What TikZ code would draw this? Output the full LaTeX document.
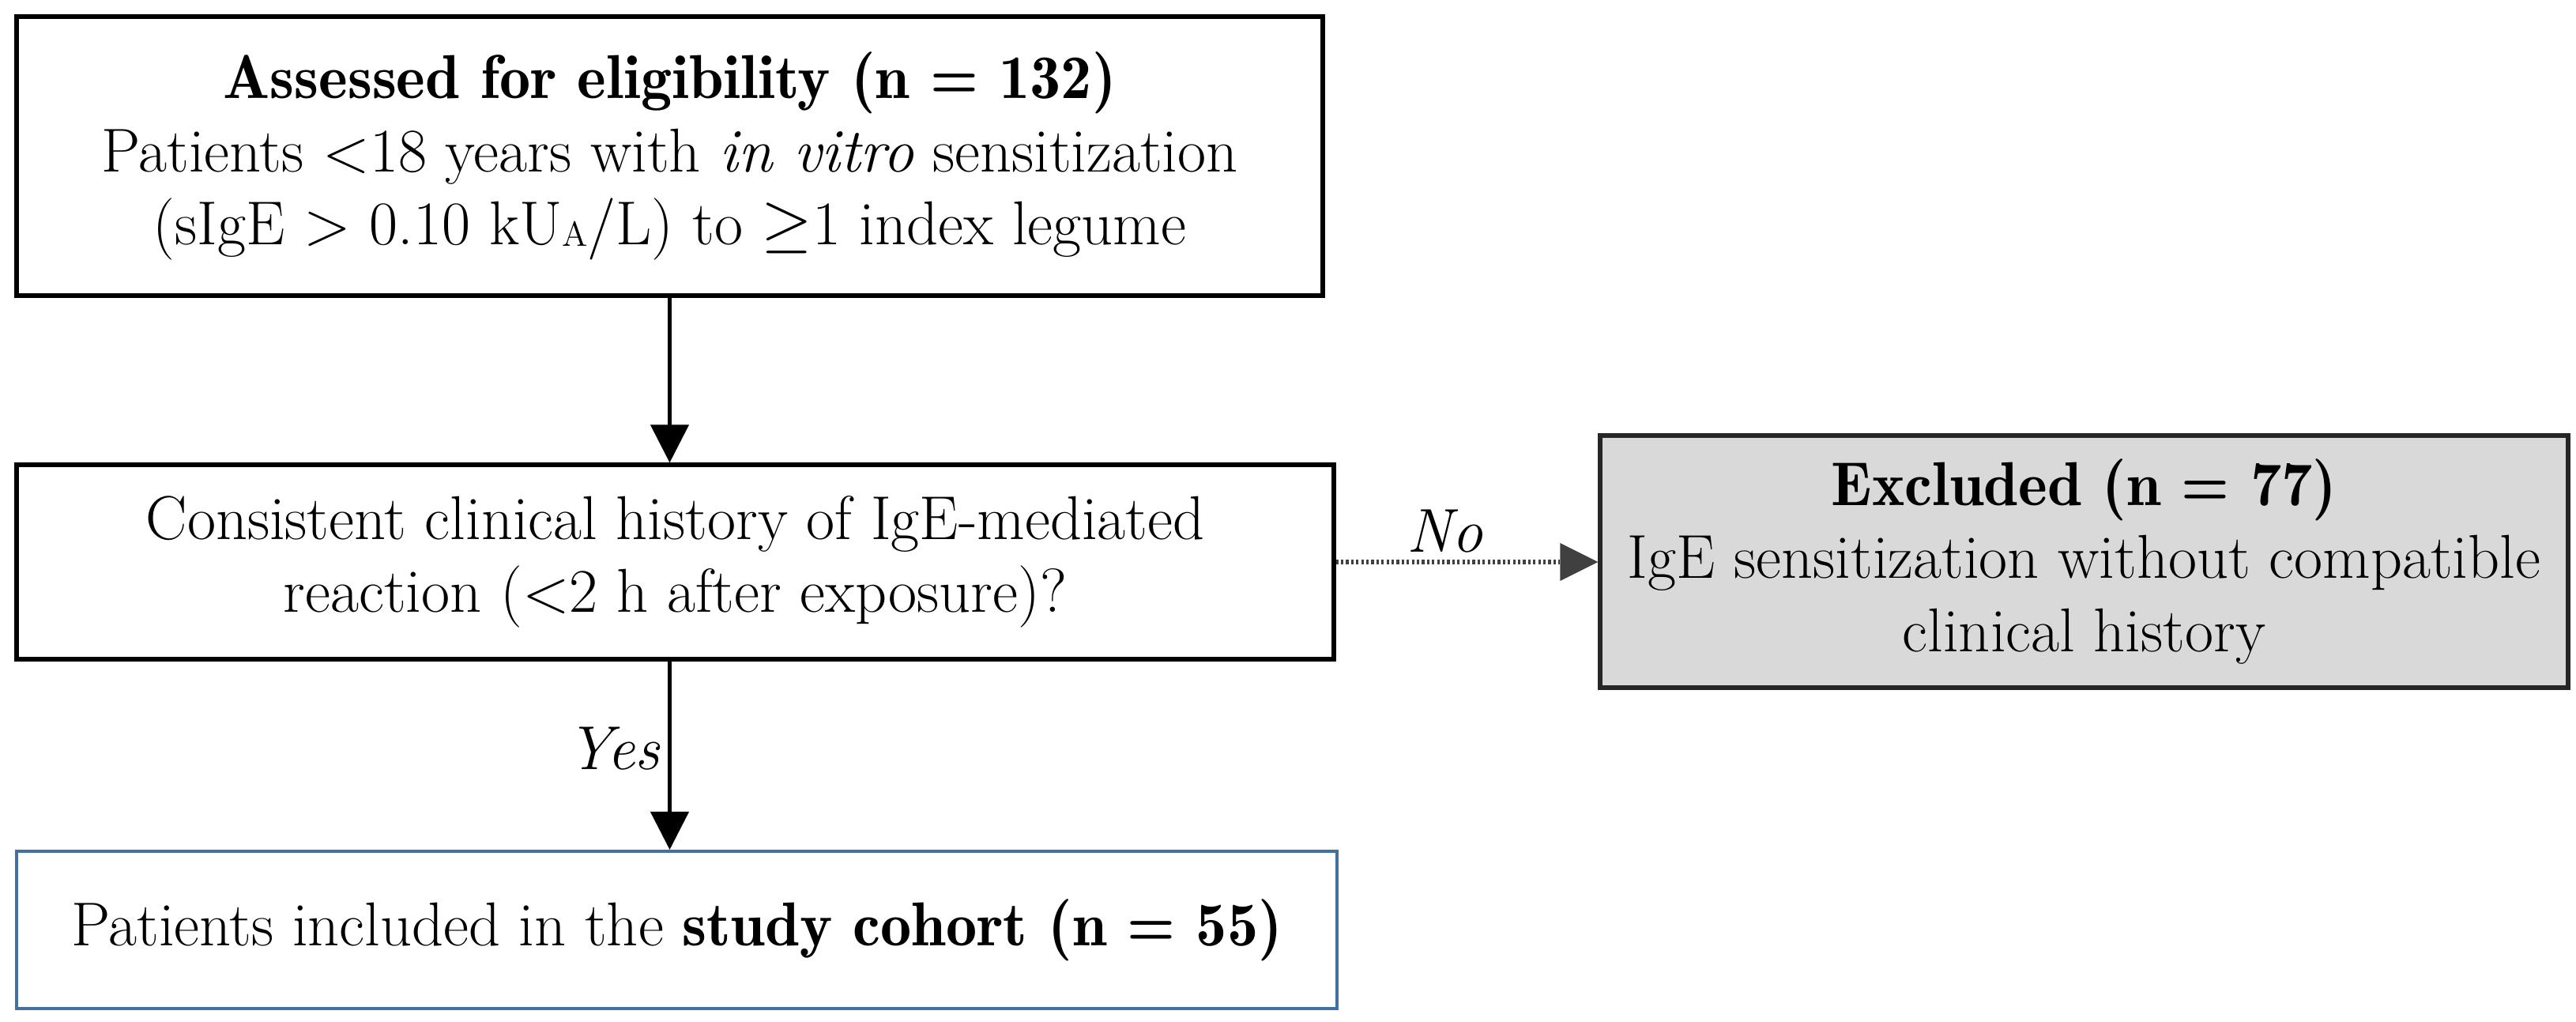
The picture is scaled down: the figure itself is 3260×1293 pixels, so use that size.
\documentclass[tikz,border=0pt]{standalone}
\usetikzlibrary{arrows.meta}
\definecolor{boxblue}{RGB}{65,113,156}
\definecolor{exgray}{RGB}{217,217,217}
\definecolor{exborder}{RGB}{38,38,38}
\definecolor{dotgray}{RGB}{64,64,64}
\newcommand{\dbf}[1]{{\fontseries{b}\selectfont #1}}
\begin{document}
\begin{tikzpicture}[x=0.25pt,y=-0.25pt,
  every node/.style={inner sep=0pt,align=center,font=\fontsize{19.6}{23.1}\selectfont},
  flowbox/.style={draw=black,line width=1.3pt,rectangle,fill=white},
  exbox/.style={draw=exborder,line width=1.3pt,rectangle,fill=exgray},
  incbox/.style={draw=boxblue,line width=1pt,rectangle,fill=white},
  flowarrow/.style={line width=1.1pt,-{Triangle[length=12pt,width=12pt]}},
  dotarrow/.style={draw=dotgray,line width=1.4pt,dash pattern=on 0.8pt off 0.8pt,-{Triangle[length=12pt,width=12pt,fill=dotgray,line width=0pt]}},
  lbl/.style={font=\fontsize{19.6}{23}\selectfont\itshape}]
\useasboundingbox (0,0) rectangle (3260,1293);
\node[flowbox,minimum width=413.25pt,minimum height=88.25pt] (assess) at (847.5,197.5)
  {\dbf{Assessed for eligibility (n = 132)}\\
   Patients \textless18 years with \textit{in vitro} sensitization\\
   (sIgE \textgreater{} 0.10 kU\raisebox{-0.4pt}{\fontsize{11}{11}\selectfont A}/L) to $\geq$1 index legume};
\node[flowbox,minimum width=416.75pt,minimum height=61.5pt] (hist) at (854.5,711)
  {Consistent clinical history of IgE-mediated\\
   reaction (\textless2 h after exposure)?};
\node[exbox,minimum width=306.25pt,minimum height=79.75pt] (excl) at (2637.5,710.5)
  {\dbf{Excluded (n = 77)}\\
   IgE sensitization without compatible\\
   clinical history};
\node[incbox,minimum width=417.75pt,minimum height=49.75pt] (incl) at (856.5,1176.5)
  {Patients included in the \dbf{study cohort (n = 55)}};
\draw[flowarrow] (assess.south) -- (assess.south |- hist.north);
\draw[flowarrow] (hist.south -| assess.south) -- (assess.south |- incl.north);
\draw[dotarrow] (hist.east) -- (hist.east -| excl.west);
\node[lbl] (nolbl) at (1829,672) {No};
\node[lbl,anchor=east] (yeslbl) at (836,947) {Yes};
\end{tikzpicture}
\end{document}
